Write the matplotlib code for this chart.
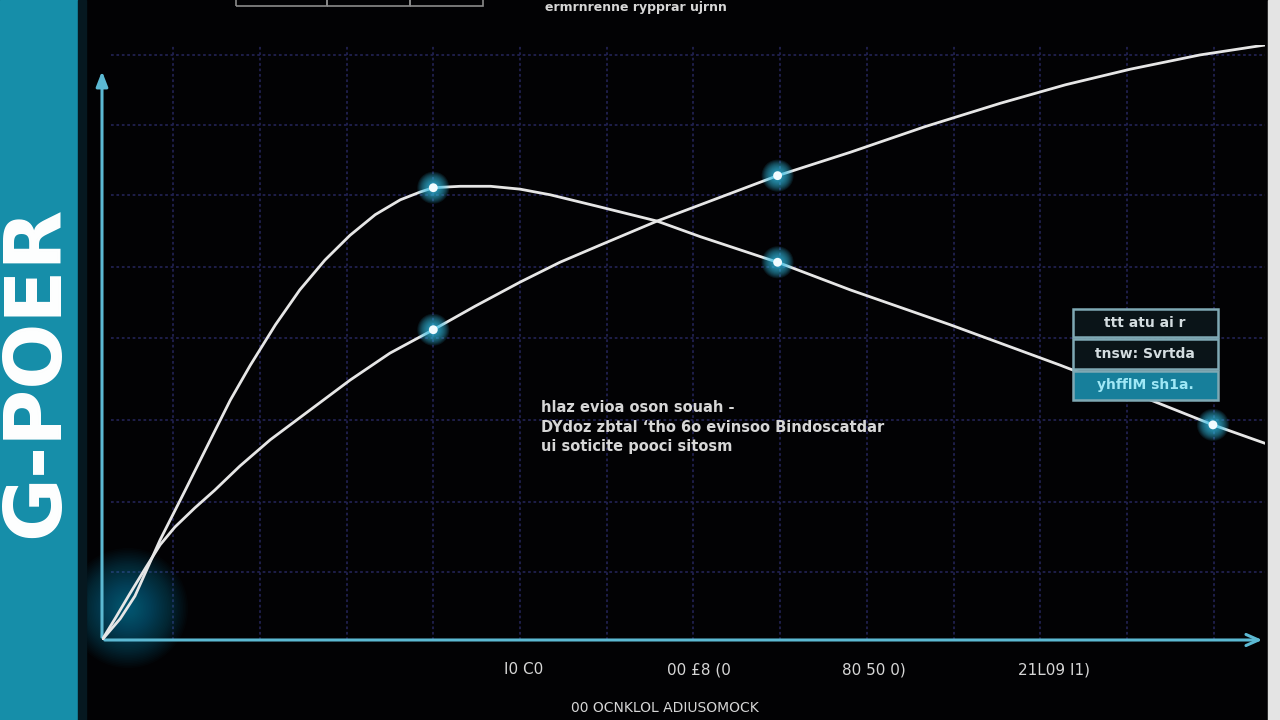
"""
Neon dark line chart: two curves with glowing markers, teal side band.
Writes out.png (1280x720).
"""

import numpy as np
import matplotlib
matplotlib.use("Agg")
import matplotlib.pyplot as plt
from matplotlib.patches import Rectangle

# ---------------- data ----------------
hump_x = [0, 0.21, 0.38, 0.67, 0.96, 1.25, 1.48, 1.71, 2.00, 2.28, 2.57, 2.86,
          3.15, 3.44, 3.67, 3.82, 4.13, 4.48, 4.82, 5.17, 5.74, 6.40, 6.90,
          7.79, 8.63, 9.78, 11.05, 12.09, 12.81, 13.41]
hump_y = [0, 0.30, 0.62, 1.41, 2.11, 2.82, 3.38, 3.87, 4.44, 4.93, 5.35, 5.70,
          5.99, 6.20, 6.31, 6.37, 6.39, 6.39, 6.35, 6.27, 6.10, 5.90, 5.68,
          5.32, 4.93, 4.44, 3.87, 3.38, 3.03, 2.77]

rise_x = [0, 0.16, 0.32, 0.50, 0.67, 0.84, 1.07, 1.30, 1.59, 1.94, 2.40, 2.86,
          3.32, 3.82, 4.30, 4.82, 5.28, 5.74, 6.40, 6.90, 7.79, 8.63, 9.49,
          10.36, 11.11, 11.86, 12.66, 13.41]
rise_y = [0, 0.32, 0.65, 1.01, 1.34, 1.59, 1.86, 2.11, 2.45, 2.82, 3.24, 3.66,
          4.04, 4.37, 4.70, 5.04, 5.32, 5.56, 5.90, 6.13, 6.54, 6.87, 7.23,
          7.56, 7.82, 8.04, 8.24, 8.38]

marker_x = [3.82, 7.79, 12.81, 3.82, 7.79]
marker_y = [6.37, 5.32, 3.03, 4.37, 6.54]

xtick_pos = [4.86, 6.88, 8.90, 10.98]
xtick_labels = ["I0 C0", "00 £8 (0", "80 50 0)", "21L09 I1)"]

note_lines = ["hlaz evioa oson souah -",
              "DYdoz zbtal \u2018tho 6o evinsoo Bindoscatdar",
              "ui soticite pooci sitosm"]
legend_rows = ["ttt atu ai r", "tnsw: Svrtda", "yhfflM sh1a."]

side_title = "G-POER"
x_title = "00 OCNKLOL ADIUSOMOCK"
top_text = "ermrnrenne rypprar ujrnn"

# ---------------- styling ----------------
BG = "#020204"
TEAL = "#168ea9"
AXIS = "#5cb9d3"
GRID = "#20204f"
CURVE = "#e6e6e6"
GLOW = "#36c4ea"
TEXT = "#d6d6d6"

W, H = 1280, 720
fig = plt.figure(figsize=(12.8, 7.2), dpi=100, facecolor=BG)


def fx(px):
    return px / W


def fy(py):
    return 1 - py / H


# left teal band + thin dark strip
fig.patches.append(Rectangle((0, 0), fx(78), 1, transform=fig.transFigure,
                             color=TEAL, zorder=0))
fig.patches.append(Rectangle((fx(78), 0), fx(8), 1, transform=fig.transFigure,
                             color="#061820", zorder=0))
# pale strip on the far right
fig.patches.append(Rectangle((fx(1268), 0), fx(12), 1, transform=fig.transFigure,
                             color="#e4e4e4", zorder=0))
fig.text(fx(36), fy(372), side_title, rotation=90, ha="center", va="center",
         color="white", fontsize=56, fontweight="bold", family="DejaVu Sans")

# top cut-off table and text
for x0, x1 in [(236, 327), (327, 410), (410, 483)]:
    fig.patches.append(Rectangle((fx(x0), fy(6)), fx(x1 - x0), 10 / H,
                                 transform=fig.transFigure, fill=False,
                                 edgecolor="#8a8a8a", linewidth=1.2))
fig.text(fx(545), fy(7), top_text, ha="left", va="center", color=TEXT,
         fontsize=9, fontweight="bold")

ax = fig.add_axes([fx(102), fy(640), fx(1265) - fx(102), fy(45) - fy(640)])
ax.set_facecolor("none")
ax.set_xlim(0, 13.41)
ax.set_ylim(0, 8.38)
for s in ax.spines.values():
    s.set_visible(False)
ax.set_yticks([])
ax.set_xticks(xtick_pos)
ax.set_xticklabels(xtick_labels, color=TEXT, fontsize=11)
ax.tick_params(axis="x", length=0, pad=16)

# grid
for gx in np.arange(0.82, 13.3, 1.0):
    ax.plot([gx, gx], [0, 8.38], color=GRID, lw=1.3, ls=(0, (1.5, 1.5)), zorder=1)
for gy in [0.96, 1.94, 3.10, 4.25, 5.25, 6.27, 7.25, 8.24]:
    ax.plot([0.1, 13.41], [gy, gy], color=GRID, lw=1.3, ls=(0, (1.5, 1.5)), zorder=1)

# origin glow (soft, many thin layers)
for r in np.linspace(120, 8, 36):
    ax.scatter([0.3], [0.45], s=(r * 0.72) ** 2, color="#1aa3d4",
               alpha=0.022, edgecolors="none", clip_on=False, zorder=2)

# axes with arrows
ax.annotate("", xy=(0, 8.05), xytext=(0, 0),
            arrowprops=dict(arrowstyle="-|>,head_length=0.9,head_width=0.35",
                            color=AXIS, lw=2.2), zorder=3)
ax.annotate("", xy=(13.41, 0), xytext=(0, 0),
            arrowprops=dict(arrowstyle="->,head_length=0.9,head_width=0.4",
                            color=AXIS, lw=2.2), annotation_clip=False, zorder=3)

# curves
ax.plot(hump_x, hump_y, color=CURVE, lw=2.0, zorder=4,
        solid_capstyle="round", solid_joinstyle="round")
ax.plot(rise_x, rise_y, color=CURVE, lw=2.0, zorder=4,
        solid_capstyle="round", solid_joinstyle="round")

# glowing markers
for r in np.linspace(32, 6, 14):
    ax.scatter(marker_x, marker_y, s=(r * 0.72) ** 2, color=GLOW, alpha=0.1,
               edgecolors="none", zorder=5)
ax.scatter(marker_x, marker_y, s=(7 * 0.72) ** 2 * 1.6, color="#f2fcff",
           edgecolors="none", zorder=6)

# note text block
for i, line in enumerate(note_lines):
    fig.text(fx(541), fy(408 + i * 19), line, ha="left", va="center",
             color=TEXT, fontsize=10.5, fontweight="bold")

# legend-like box
row_y = [(309, 337), (339, 369), (371, 400)]
row_bg = ["#0a1418", "#0a1418", "#177f9b"]
row_fg = ["#d4dde0", "#d4dde0", "#9fe8f6"]
for (y0, y1), bg, fg, txt in zip(row_y, row_bg, row_fg, legend_rows):
    fig.patches.append(Rectangle((fx(1073), fy(y1)), fx(1218) - fx(1073),
                                 (y1 - y0) / H, transform=fig.transFigure,
                                 facecolor=bg, edgecolor="#7fa9b4", lw=1.8,
                                 zorder=7))
    fig.text(fx(1145), fy((y0 + y1) / 2), txt, ha="center", va="center",
             color=fg, fontsize=10, fontweight="bold", zorder=8)

fig.text(fx(665), fy(708), x_title, ha="center", va="center", color=TEXT,
         fontsize=10)

fig.savefig("out.png", dpi=100, facecolor=BG)
